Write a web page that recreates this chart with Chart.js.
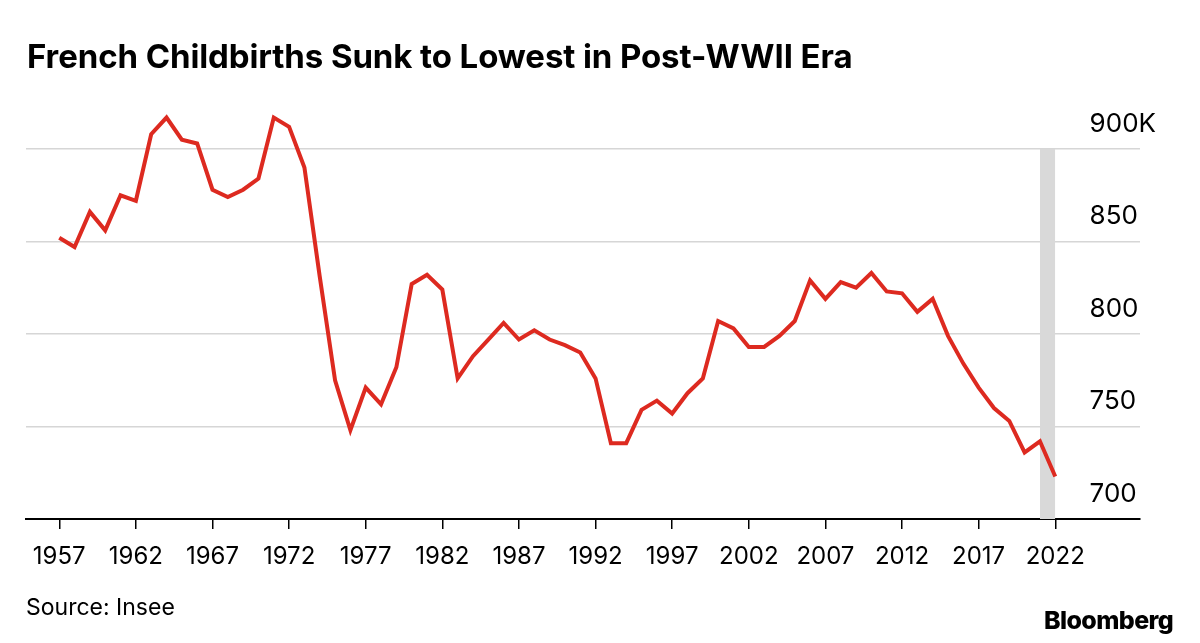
<!DOCTYPE html>
<html>
<head>
<meta charset="utf-8">
<script src="https://cdn.jsdelivr.net/npm/chart.js@4/dist/chart.umd.min.js"></script>
<style>
  html, body { margin: 0; padding: 0; background: #fff; }
  #wrap { position: relative; width: 1200px; height: 643px; overflow: hidden; }
  canvas { position: absolute; left: 0; top: 0; }
  .txt { position: absolute; white-space: nowrap; color: #000; }
  #title { left: 27px; top: 39px; font: 700 33px Inter, "Liberation Sans", sans-serif; letter-spacing: -0.1px; line-height: 34px; }
  #source { left: 26px; top: 593px; font: 400 23px Inter, "Liberation Sans", sans-serif; line-height: 28px; }
  #brand { left: 1044px; top: 605px; font: 800 25px Inter, "Liberation Sans", sans-serif; letter-spacing: -0.6px; line-height: 30px; }
</style>
</head>
<body>
<div id="wrap">
  <canvas id="c" width="1200" height="643"></canvas>
  <div id="title" class="txt">French Childbirths Sunk to Lowest in Post-WWII Era</div>
  <div id="source" class="txt">Source: Insee</div>
  <div id="brand" class="txt">Bloomberg</div>
</div>
<script>
const years = [1957,1958,1959,1960,1961,1962,1963,1964,1965,1966,1967,1968,1969,1970,1971,1972,1973,1974,1975,1976,1977,1978,1979,1980,1981,1982,1983,1984,1985,1986,1987,1988,1989,1990,1991,1992,1993,1994,1995,1996,1997,1998,1999,2000,2001,2002,2003,2004,2005,2006,2007,2008,2009,2010,2011,2012,2013,2014,2015,2016,2017,2018,2019,2020,2021,2022];
const births = [852,847,866,856,875,872,908,917,905,903,878,874,878,884,917,912,890,831,775,748,771,762,782,827,832,824,776,788,797,806,797,802,797,794,790,776,741,741,759,764,757,768,776,807,803,793,793,799,807,829,819,828,825,833,823,822,812,819,799,784,771,760,753,736,742,723];
const xTickYears = [1957,1962,1967,1972,1977,1982,1987,1992,1997,2002,2007,2012,2017,2022];
const yTickValues = [700,750,800,850,900];
const bandYears = [2021, 2022];
const bandTop = [900, 900];

const lineData = years.map((y, i) => ({x: y, y: births[i]}));
const bandData = bandYears.map((y, i) => ({x: y, y: bandTop[i]}));

new Chart(document.getElementById('c'), {
  type: 'line',
  data: {
    datasets: [
      {
        data: lineData,
        borderColor: '#dd2a20',
        borderWidth: 4,
        pointRadius: 0,
        tension: 0,
        fill: false,
        borderJoinStyle: 'miter'
      },
      {
        data: bandData,
        borderWidth: 0,
        borderColor: 'rgba(0,0,0,0)',
        backgroundColor: '#d9d9d9',
        pointRadius: 0,
        fill: 'start'
      }
    ]
  },
  options: {
    responsive: false,
    animation: false,
    devicePixelRatio: 1,
    layout: { padding: { left: 26, right: 60, top: 112, bottom: 0 } },
    plugins: { legend: { display: false }, tooltip: { enabled: false }, title: { display: false } },
    scales: {
      x: {
        type: 'linear',
        position: 'bottom',
        min: 1954.83,
        max: 2027.53,
        afterBuildTicks: (s) => { s.ticks = xTickYears.map(v => ({value: v})); },
        afterFit: (s) => { s.height = 124; },
        grid: { drawOnChartArea: false, drawTicks: true, tickLength: 10, color: '#000', lineWidth: 1.5 },
        border: { display: true, color: '#000', width: 2 },
        ticks: {
          autoSkip: false, maxRotation: 0, minRotation: 0,
          padding: 13,
          color: '#000',
          font: { family: 'Inter, "Liberation Sans", sans-serif', size: 24 },
          callback: (v) => String(v)
        }
      },
      y: {
        type: 'linear',
        position: 'right',
        min: 700,
        max: 920,
        afterBuildTicks: (s) => { s.ticks = yTickValues.map(v => ({value: v})); },
        afterFit: (s) => { s.width = 0; },
        grid: { color: '#d6d6d6', lineWidth: 1.5, drawTicks: false },
        border: { display: false },
        ticks: {
          mirror: true,
          crossAlign: 'far',
          padding: 16,
          labelOffset: -25,
          color: '#000',
          font: { family: 'Inter, "Liberation Sans", sans-serif', size: 26 },
          callback: (v) => v === 900 ? '900K' : String(v)
        }
      }
    }
  }
});
</script>
</body>
</html>
